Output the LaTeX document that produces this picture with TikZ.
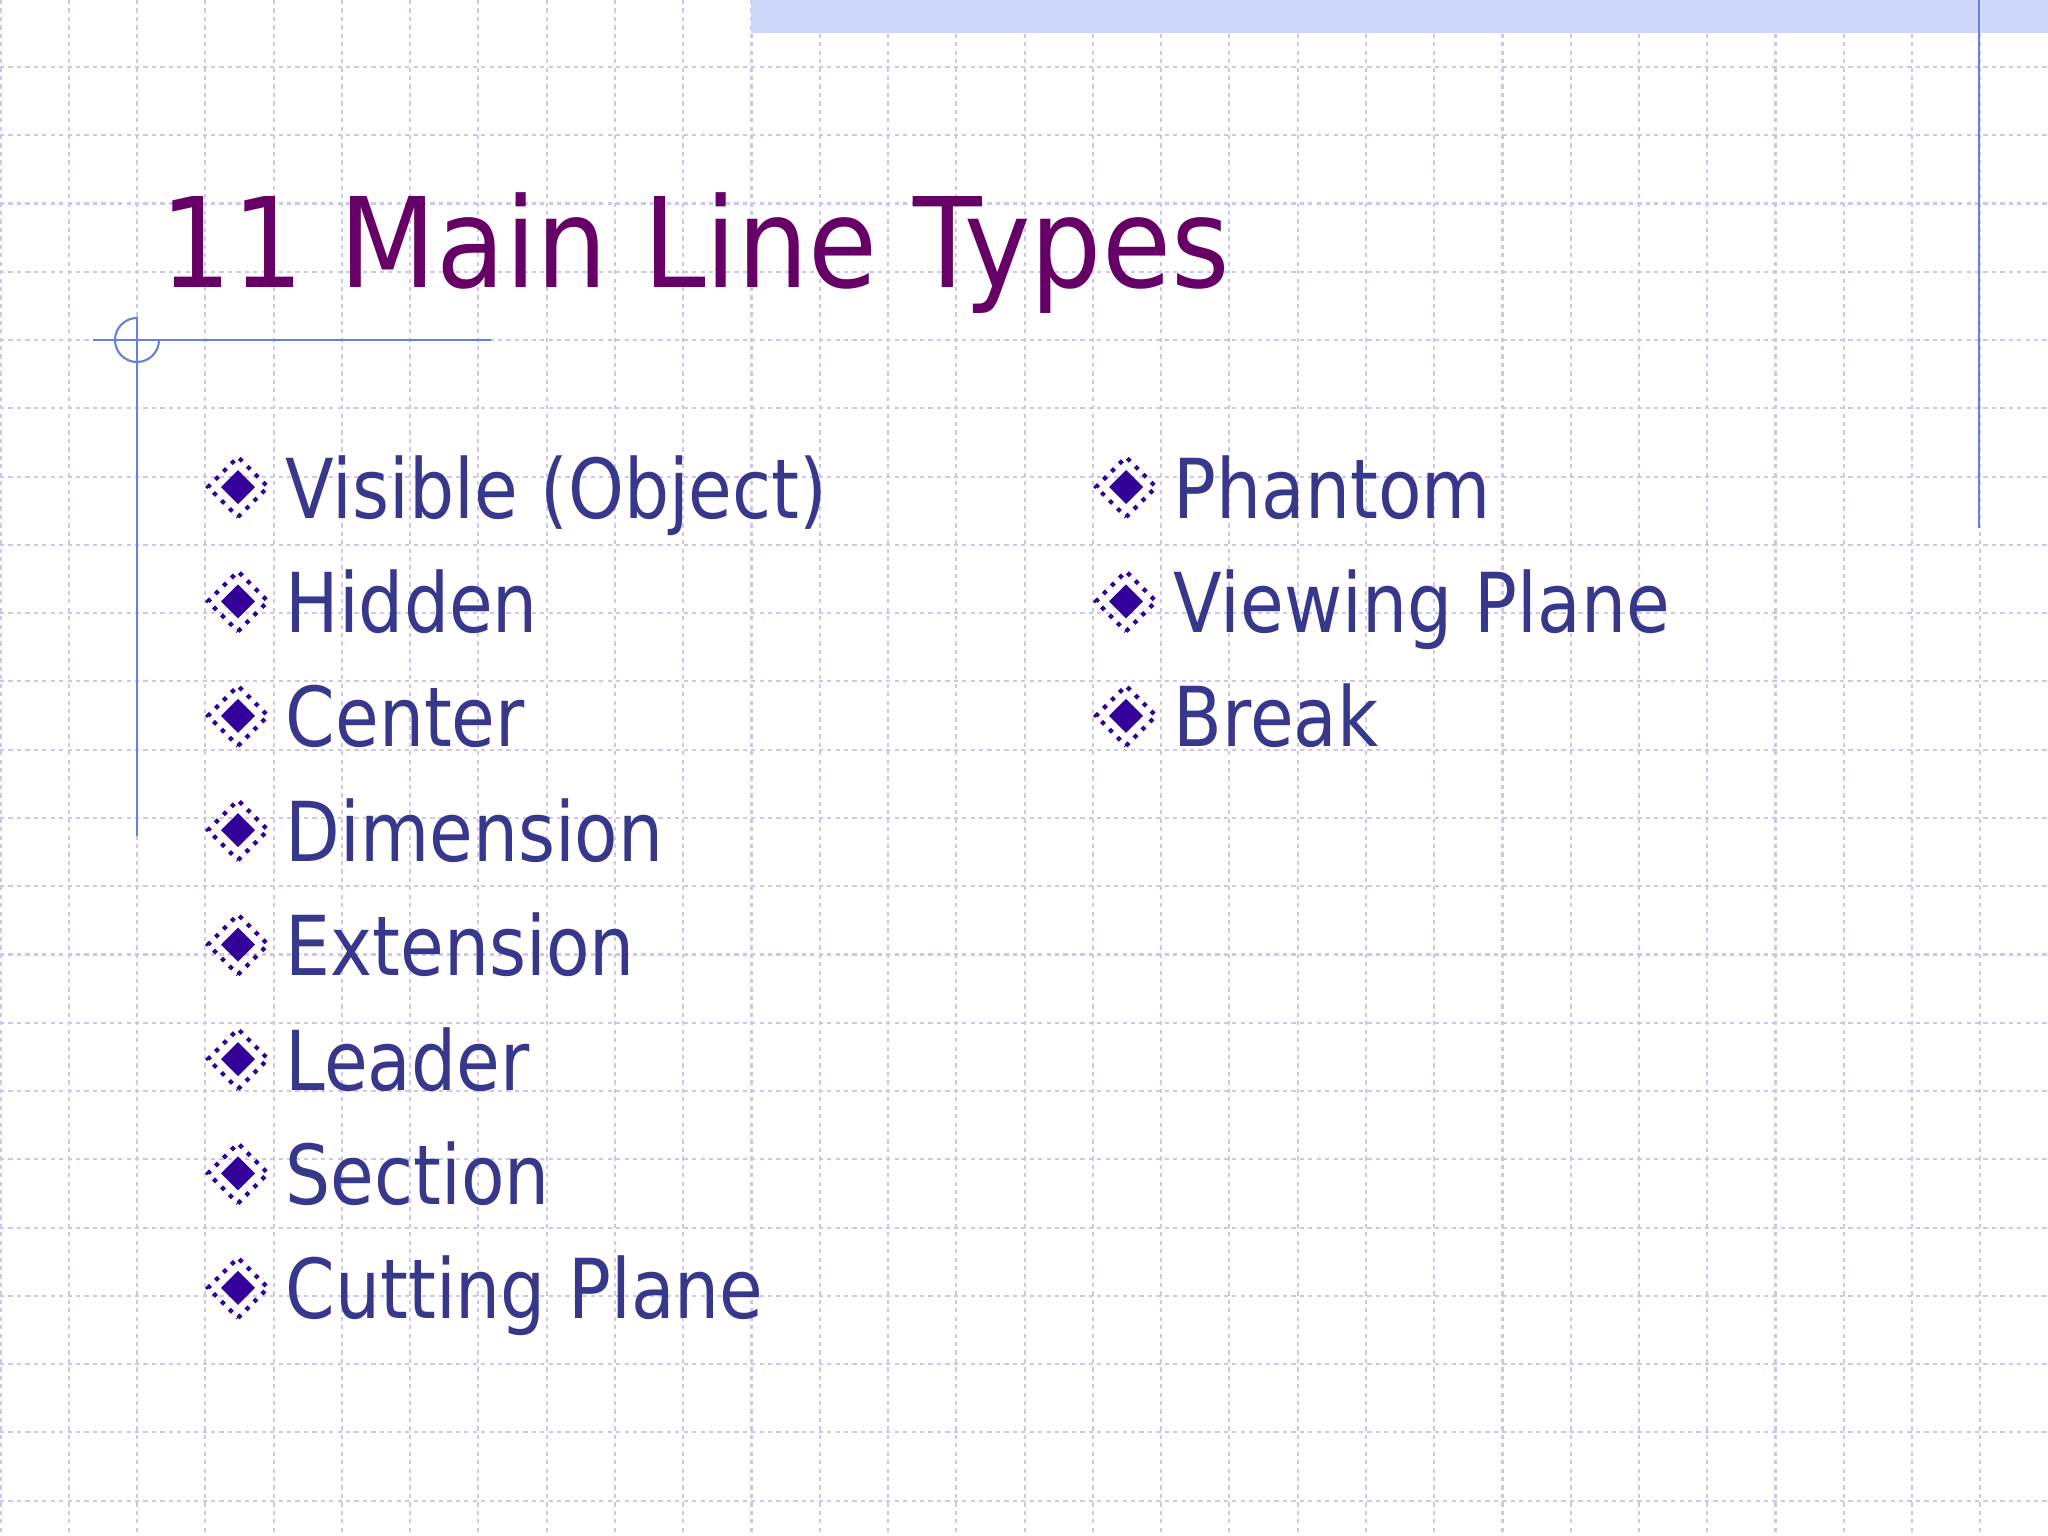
\documentclass[tikz,border=0pt]{standalone}
\usepackage{fontspec}
\setmainfont{DejaVu Sans}
\definecolor{gridc}{RGB}{200,200,240}
\definecolor{bandc}{RGB}{205,215,250}
\definecolor{linec}{RGB}{100,130,220}
\definecolor{titlec}{RGB}{102,0,102}
\definecolor{textc}{RGB}{55,55,140}
\definecolor{bulc}{RGB}{51,0,153}
\newcommand{\nrw}[2]{\scalebox{#1}[1]{#2}}
\tikzset{
  item/.style={anchor=base west, inner sep=0pt, text=textc, font=\fontsize{23.5}{28}\selectfont},
  bul/.pic={
    \fill[bulc] (0,17)--(17,0)--(0,-17)--(-17,0)--cycle;
    \draw[bulc, line width=1.2pt, dotted] (0,30)--(30,0)--(0,-30)--(-30,0)--cycle;
  }
}
\begin{document}
\begin{tikzpicture}[x=0.01cm,y=-0.01cm]
\fill[white] (0,0) rectangle (2048,1536);
\useasboundingbox (0,0) rectangle (2048,1536);
\foreach \i in {0,...,30} {
  \draw[gridc, line width=0.6pt, dash pattern=on 1.2pt off 1.2pt] ({0.5+68.27*\i},0) -- ({0.5+68.27*\i},1536);
}
\foreach \j in {0,...,22} {
  \draw[gridc, line width=0.6pt, dash pattern=on 1.2pt off 1.2pt] (0,{67+68.27*\j}) -- (2048,{67+68.27*\j});
}
\fill[bandc] (751,0) rectangle (2048,33);
\draw[linec, line width=0.6pt] (1979,0) -- (1979,528);
\draw[linec, line width=0.6pt] (93,340) -- (491,340);
\draw[linec, line width=0.6pt] (137,317) -- (137,836);
\draw[linec, line width=0.6pt] (137,318) arc[start angle=270, end angle=0, radius=22];
\node[anchor=base west, inner sep=0pt, text=titlec, font=\fontsize{35.5}{40}\selectfont] (title) at (160,287) {\nrw{0.9}{11 Main Line Types}};
\foreach \t [count=\k from 0] in {Visible (Object),Hidden,Center,Dimension,Extension,Leader,Section,Cutting Plane} {
  \node[item] (L\k) at (285,{518+114.4*\k}) {\nrw{0.86}{\t}};
  \pic at (238,{487+114.4*\k}) {bul};
}
\foreach \t [count=\k from 0] in {Phantom,Viewing Plane,Break} {
  \node[item] (R\k) at (1173,{518+114.4*\k}) {\nrw{0.86}{\t}};
  \pic at (1126,{487+114.4*\k}) {bul};
}
\end{tikzpicture}
\end{document}
